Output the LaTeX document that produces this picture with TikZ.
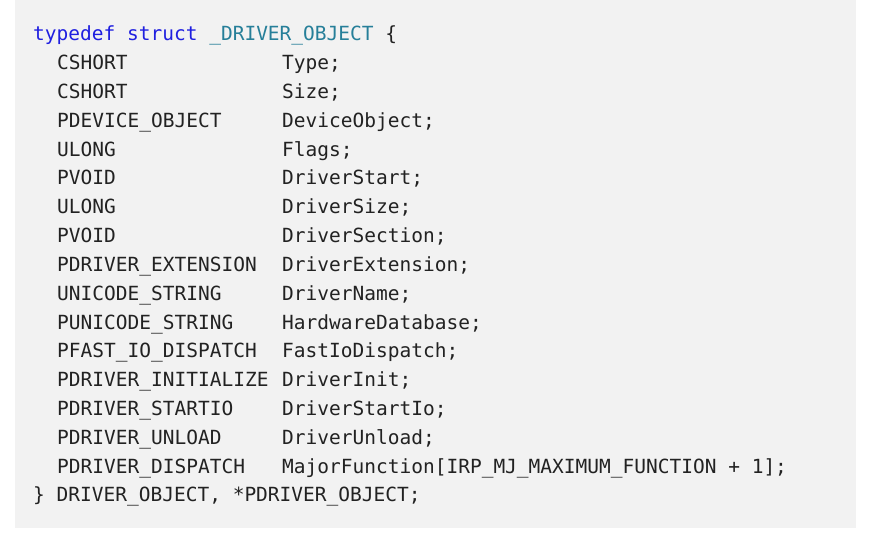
\documentclass[tikz,border=0pt]{standalone}
\usepackage{fontspec}
\setmonofont{DejaVu Sans Mono}
\definecolor{bg}{HTML}{F2F2F2}
\definecolor{kw}{HTML}{1F1FE0}
\definecolor{ty}{HTML}{267F99}
\definecolor{tx}{HTML}{222222}
\begin{document}
\begin{tikzpicture}[x=1pt,y=-1pt,
  code/.style={anchor=base west,inner sep=0,font=\ttfamily\fontsize{19.5}{20}\selectfont,text=tx}]
\useasboundingbox (0,0) rectangle (883,540);
\fill[bg] (15,0) rectangle (856,528);
\node[code] (l0) at (33,41) {\textcolor{kw}{typedef struct} \textcolor{ty}{\_DRIVER\_OBJECT} \{};
\foreach \i/\a/\b in {1/CSHORT/Type;,2/CSHORT/Size;,3/PDEVICE\_OBJECT/DeviceObject;,4/ULONG/Flags;,5/PVOID/DriverStart;,6/ULONG/DriverSize;,7/PVOID/DriverSection;,8/PDRIVER\_EXTENSION/DriverExtension;,9/UNICODE\_STRING/DriverName;,10/PUNICODE\_STRING/HardwareDatabase;,11/PFAST\_IO\_DISPATCH/FastIoDispatch;,12/PDRIVER\_INITIALIZE/DriverInit;,13/PDRIVER\_STARTIO/DriverStartIo;,14/PDRIVER\_UNLOAD/DriverUnload;,15/PDRIVER\_DISPATCH/{MajorFunction[IRP\_MJ\_MAXIMUM\_FUNCTION + 1];}}{
  \node[code] (a\i) at (57,41+28.8*\i) {\a};
  \node[code] (b\i) at (282,41+28.8*\i) {\b};
}
\node[code] (l16) at (33,41+28.8*16) {\} DRIVER\_OBJECT, *PDRIVER\_OBJECT;};
\end{tikzpicture}
\end{document}
